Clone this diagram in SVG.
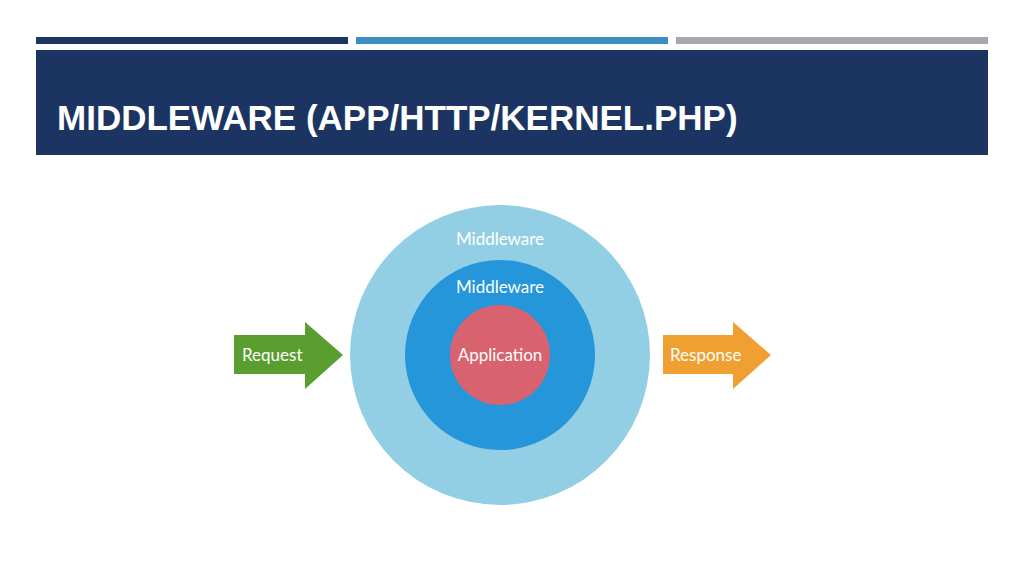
<svg xmlns="http://www.w3.org/2000/svg" width="1024" height="574" viewBox="0 0 1024 574">
<style>
.lbl{font-family:"Lato","Liberation Sans",sans-serif;fill:#fff;font-size:17px}
.c{text-anchor:middle}
</style>
<rect width="1024" height="574" fill="#fff"/>
<rect x="36" y="37" width="312" height="7" fill="#1c3461"/>
<rect x="356" y="37" width="312" height="7" fill="#3b8ec0"/>
<rect x="676" y="37" width="312" height="7" fill="#a5a8ad"/>
<rect x="36" y="50" width="952" height="105" fill="#1c3461"/>
<text x="57" y="130" font-family="'Liberation Sans',sans-serif" font-weight="bold" font-size="35" fill="#fff">MIDDLEWARE (APP/HTTP/KERNEL.PHP)</text>
<g id="outer"><circle cx="500" cy="355" r="150" fill="#93cfe4"/><text class="lbl c" x="500" y="245">Middleware</text></g>
<g id="middle"><circle cx="500" cy="355" r="95" fill="#2596d9"/><text class="lbl c" x="500" y="293">Middleware</text></g>
<g id="app"><circle cx="500" cy="355" r="50" fill="#d9626f"/><text class="lbl c" x="500" y="361">Application</text></g>
<g id="connectors">
<g id="request"><polygon points="234,335 305,335 305,322 343,355 305,389 305,374 234,374" fill="#5a9e2f"/><text class="lbl" x="242" y="361" font-size="16">Request</text></g>
<g id="response"><polygon points="663,335 733,335 733,322 771,355 733,389 733,374 663,374" fill="#f0a030"/><text class="lbl" x="670" y="361" font-size="16">Response</text></g>
</g>
</svg>
